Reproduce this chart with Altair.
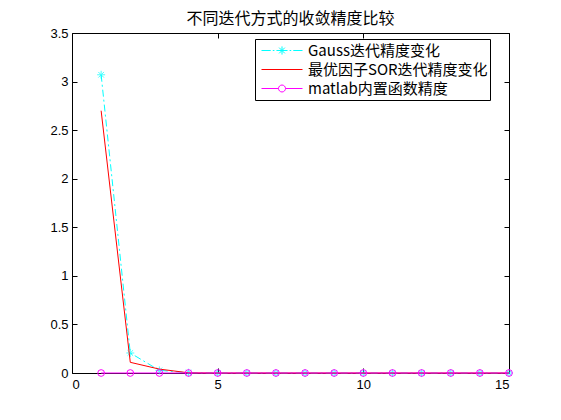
import altair as alt
import pandas as pd

# ---- data ----
iterations = [1, 2, 3, 4, 5, 6, 7, 8, 9, 10, 11, 12, 13, 14, 15]
gauss_err = [3.07, 0.206, 0.027, 0.003, 0.0004, 0.00005, 0.00001, 0.0, 0.0, 0.0, 0.0, 0.0, 0.0, 0.0, 0.0]
sor_err = [2.70, 0.11, 0.04, 0.002, 0.0001, 0.00001, 0.0, 0.0, 0.0, 0.0, 0.0, 0.0, 0.0, 0.0, 0.0]
matlab_err = [0.0, 0.0, 0.0, 0.0, 0.0, 0.0, 0.0, 0.0, 0.0, 0.0, 0.0, 0.0, 0.0, 0.0, 0.0]

series_names = ["Gauss迭代精度变化", "最优因子SOR迭代精度变化", "matlab内置函数精度"]
series_colors = ["#00FFFF", "#FF0000", "#FF00FF"]
x_ticks = [0, 5, 10, 15]
y_ticks = [0, 0.5, 1, 1.5, 2, 2.5, 3, 3.5]
title_text = "不同迭代方式的收敛精度比较"

rows = []
for name, vals in zip(series_names, [gauss_err, sor_err, matlab_err]):
    for it, v in zip(iterations, vals):
        rows.append({"iter": it, "err": v, "series": name})
df = pd.DataFrame(rows)

# ---- styles ----
STAR = "M-1,0H1M0,-1V1M-0.7,-0.7L0.7,0.7M-0.7,0.7L0.7,-0.7"
LEG_GAUSS = ("M-1,0H-0.55M-0.45,0H-0.37M-0.27,0H0.27M0.37,0H0.45M0.55,0H1"
             "M-0.2,0H0.2M0,-0.2V0.2M-0.14,-0.14L0.14,0.14M-0.14,0.14L0.14,-0.14")
LEG_SOR = "M-1,0H1"
LEG_MATLAB = ("M-1,0H-0.17M0.17,0H1"
              "M0.17,0A0.17,0.17,0,1,1,-0.17,0A0.17,0.17,0,1,1,0.17,0")
legend_paths = [LEG_GAUSS, LEG_SOR, LEG_MATLAB]

TICK_FONT = "Liberation Sans"
CJK_FONT = "Noto Sans CJK SC"

xscale = alt.Scale(domain=[0, 15], nice=False, zero=False)
yscale = alt.Scale(domain=[0, 3.5], nice=False, zero=False)

axis_common = dict(grid=False, domain=False, tickColor="black", tickSize=5,
                   offset=-5, title=None, labelColor="black",
                   labelFont=TICK_FONT, labelFontSize=13)

x_bottom = alt.Axis(orient="bottom", values=x_ticks, labelPadding=5,
                    format="~g", **axis_common)
x_top = alt.Axis(orient="top", values=x_ticks, labels=False, **axis_common)
y_left = alt.Axis(orient="left", values=y_ticks, labelPadding=4,
                  format="~g", **axis_common)
y_right = alt.Axis(orient="right", values=y_ticks, labels=False, **axis_common)

base = alt.Chart(df)


def sel(name):
    return base.transform_filter(alt.datum.series == name)


gauss_line = sel(series_names[0]).mark_line(
    color=series_colors[0], strokeWidth=1, strokeDash=[7, 3, 2, 3]
).encode(
    x=alt.X("iter:Q", scale=xscale, axis=x_bottom),
    y=alt.Y("err:Q", scale=yscale, axis=y_left),
)

sor_line = sel(series_names[1]).mark_line(
    color=series_colors[1], strokeWidth=1
).encode(
    x=alt.X("iter:Q", scale=xscale, axis=None),
    y=alt.Y("err:Q", scale=yscale, axis=None),
)

matlab_line = sel(series_names[2]).mark_line(
    color=series_colors[2], strokeWidth=1
).encode(
    x=alt.X("iter:Q", scale=xscale, axis=None),
    y=alt.Y("err:Q", scale=yscale, axis=None),
)

gauss_pts = sel(series_names[0]).mark_point(
    shape=STAR, filled=False, size=64, color=series_colors[0], strokeWidth=1
).encode(
    x=alt.X("iter:Q", scale=xscale, axis=None),
    y=alt.Y("err:Q", scale=yscale, axis=None),
)

matlab_pts = sel(series_names[2]).mark_point(
    shape="circle", filled=False, size=45, color=series_colors[2], strokeWidth=1,
    opacity=1
).encode(
    x=alt.X("iter:Q", scale=xscale, axis=None),
    y=alt.Y("err:Q", scale=yscale, axis=None),
)

leg = alt.Legend(
    orient="none", legendX=183, legendY=6, title=None,
    strokeColor="black", fillColor="white", padding=2, cornerRadius=0,
    clipHeight=19, rowPadding=0, symbolSize=1681, symbolStrokeWidth=1,
    symbolOffset=4, labelFont=CJK_FONT, labelFontSize=15, labelColor="black",
    labelOffset=5, labelLimit=400,
)

legend_layer = base.transform_filter("false").mark_point(
    filled=False, strokeWidth=1, opacity=1
).encode(
    x=alt.X("iter:Q", scale=xscale, axis=x_top),
    y=alt.Y("err:Q", scale=yscale, axis=y_right),
    color=alt.Color("series:N", scale=alt.Scale(domain=series_names, range=series_colors), legend=leg),
    shape=alt.Shape("series:N", scale=alt.Scale(domain=series_names, range=legend_paths), legend=leg),
)

chart = alt.layer(
    gauss_line, gauss_pts, sor_line, matlab_line, matlab_pts, legend_layer
).resolve_axis(
    x="independent", y="independent"
).properties(
    width=437, height=340,
    title=alt.Title(title_text, font=CJK_FONT, fontSize=16, fontWeight="normal",
                    color="black", anchor="middle", offset=0),
    padding={"left": 64, "top": 25, "right": 30, "bottom": 26},
    autosize=alt.AutoSizeParams(type="none"),
    background="white",
).configure_view(stroke="black", strokeWidth=1)

chart.save("out.html", embed_options={"renderer": "svg", "actions": False})
